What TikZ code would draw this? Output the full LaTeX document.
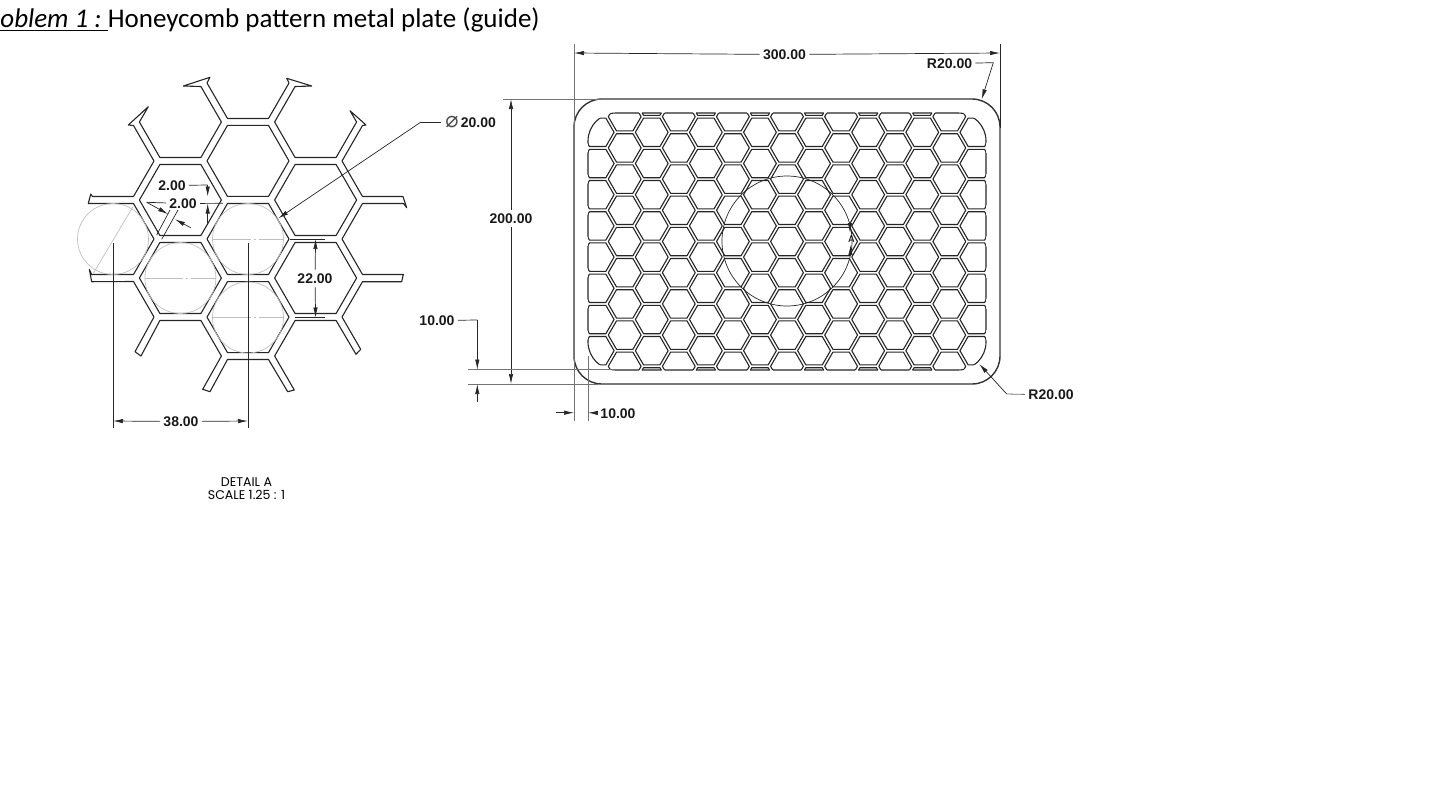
\documentclass[tikz,border=0pt]{standalone}
\usepackage{fontspec}
\setmainfont{Liberation Sans}
\newfontfamily\titlefont{Carlito}
\newfontfamily\notefont{Poppins}
\newfontfamily\symfont{DejaVu Sans}
\usetikzlibrary{arrows.meta}
\tikzset{
  wallline/.style={draw=black!85, line width=0.55pt, line join=round},
  plateline/.style={draw=black!80, line width=0.7pt},
  dimline/.style={draw=black!85, line width=0.35pt},
  extline/.style={draw=black!55, line width=0.4pt},
  faintline/.style={draw=black!25, line width=0.35pt},
  centerline/.style={faintline, dash pattern=on 19pt off 1.5pt on 1pt off 1.5pt},
  dimarrow/.style={dimline, -{Latex[length=5pt,width=2.2pt]}},
  dimlabel/.style={font=\bfseries\fontsize{7}{8}\selectfont, text=black!90, inner sep=1.5pt, yshift=-0.25pt},
  notelabel/.style={font=\notefont\fontsize{6.3}{7}\selectfont, inner sep=0pt},
}
\begin{document}
\begin{tikzpicture}[x=0.5pt, y=-0.5pt]
\useasboundingbox (0,0) rectangle (1440,810);
\node[anchor=base west, inner sep=0pt, font=\titlefont\fontsize{13.5}{15}\selectfont] (title) at (0,27.5) {\underline{\textit{oblem 1 :\ }}Honeycomb pattern metal plate (guide)};

\draw[plateline, rounded corners=14pt] (574,99) rectangle (1000,384);
\foreach \k in {-7,...,7} {
  \foreach \m in {-5,...,4} {
    \pgfmathtruncatemacro\skipcell{(abs(\k)==7)&&((\m==-5)||(\m==4))}
    \ifnum\skipcell=0
    \pgfmathsetmacro\cx{787+27.05*\k}
    \pgfmathsetmacro\cy{241.5+31.2*\m+15.6*mod(abs(\k),2)}
    \begin{scope}
      \clip[rounded corners=14pt] (588,113) rectangle (986,370);
      \draw[wallline] (\cx,\cy) +(-16.4,0) -- +(-8.2,-14.2) -- +(8.2,-14.2) -- +(16.4,0) -- +(8.2,14.2) -- +(-8.2,14.2) -- cycle;
    \end{scope}
    \begin{scope}
      \clip (\cx,\cy) +(-16.4,0) -- +(-8.2,-14.2) -- +(8.2,-14.2) -- +(16.4,0) -- +(8.2,14.2) -- +(-8.2,14.2) -- cycle;
      \draw[wallline, rounded corners=14pt] (588,113) rectangle (986,370);
    \end{scope}
    \fi
  }
}
\draw[dimline] (787,241) circle (65);

\foreach \cx/\cy in {248/239, 248/160.9, 248/317.1, 180.4/200, 180.4/278, 315.6/200, 315.6/278} {
  \draw[wallline] (\cx,\cy) +(-41,0) -- +(-20.5,-35.5) -- +(20.5,-35.5) -- +(41,0) -- +(20.5,35.5) -- +(-20.5,35.5) -- cycle;
}
\draw[wallline] (92.5,196.5) -- (133.5,196.5) -- (154,161) -- (133.5,125.5) -- (128.3,125) -- (148.3,106.7) -- (139.4,122) -- (159.9,157.5) -- (200.9,157.5) -- (221.4,122) -- (200.9,86.5) -- (183.3,86) -- (210,77.3) -- (207,83) -- (227.5,118.5) -- (268.5,118.5) -- (289,83) -- (286.7,78.3) -- (311.7,86) -- (295.1,86.5) -- (274.6,122) -- (295.1,157.5) -- (336.1,157.5) -- (356.6,122) -- (350,110.7) -- (366,125) -- (362.5,125.5) -- (342,161) -- (362.5,196.5) -- (403,196.5) -- (406.7,207.7) -- (403.5,203.5) -- (362.5,203.5) -- (342,239) -- (362.5,274.5) -- (403.3,274.5) -- (401.7,281.7) -- (362.5,281.7) -- (342,317) -- (360.7,349.3) -- (356,354.3) -- (336.1,320.5) -- (295.1,320.5) -- (274.6,356) -- (294.3,390) -- (287.7,391.7) -- (268.5,359.5) -- (227.5,359.5) -- (210,391.7) -- (202.7,389.3) -- (221.4,356) -- (200.9,320.5) -- (159.9,320.5) -- (141,356) -- (135,351.7) -- (154,317) -- (133.5,281.5) -- (91.7,281.7) -- (89.3,269.3) -- (91.7,274.5) -- (133.5,274.5) -- (154,239) -- (133.5,203.5) -- (88.3,203.5) -- (90.7,194) -- cycle;

\foreach \cx/\cy in {113/239, 248/239, 180.4/278, 248/317.5} {
  \draw[faintline] (\cx,\cy) circle (35.5);
}
\foreach \cx/\cy in {248/239, 180.4/278, 248/317.5} {
  \draw[centerline] (\cx-35.5,\cy) -- (\cx+35.5,\cy);
}
\draw[faintline] (133,206.7) -- (93.3,273.3);

\coordinate (e38a) at (113,243);
\coordinate (e38b) at (248,243);
\coordinate (e38c) at (113,428);
\coordinate (e38d) at (248,428);
\coordinate (a38l) at (113,421);
\coordinate (a38r) at (248,421);
\node[dimlabel] (d38) at (181,421) {38.00};
\draw[dimline] (e38a) -- (e38c);
\draw[dimline] (e38b) -- (e38d);
\draw[dimarrow] (d38) -- (a38l);
\draw[dimarrow] (d38) -- (a38r);

\coordinate (e22a) at (290,239);
\coordinate (e22b) at (325,239);
\coordinate (e22c) at (295,317.5);
\coordinate (e22d) at (325,317.5);
\coordinate (a22t) at (315.6,239);
\coordinate (a22b) at (315.6,317.5);
\node[dimlabel] (d22) at (315,278) {22.00};
\draw[dimline] (e22a) -- (e22b);
\draw[dimline] (e22c) -- (e22d);
\draw[dimarrow] (d22) -- (a22t);
\draw[dimarrow] (d22) -- (a22b);

\node[dimlabel] (d2a) at (172,185) {2.00};
\coordinate (k2a) at (207.7,185);
\coordinate (t2a) at (207.7,196.5);
\coordinate (b2a) at (207.7,223.3);
\coordinate (t2b) at (207.7,203.5);
\draw[dimline] (d2a) -- (k2a);
\draw[dimarrow] (k2a) -- (t2a);
\draw[dimarrow] (b2a) -- (t2b);
\node[dimlabel] (d2b) at (183,203) {2.00};
\coordinate (e2a) at (223,203.3);
\coordinate (k2b) at (146.7,202.3);
\coordinate (t2c) at (168,214);
\coordinate (b2c) at (190.7,227.7);
\coordinate (t2d) at (175,219.3);
\coordinate (e2b) at (170,210);
\coordinate (e2c) at (156.7,235);
\coordinate (e2d) at (178,210);
\coordinate (e2e) at (161.7,239.3);
\draw[dimline] (d2b) -- (e2a);
\draw[dimline] (d2b) -- (k2b);
\draw[dimarrow] (k2b) -- (t2c);
\draw[dimarrow] (b2c) -- (t2d);
\draw[dimline] (e2b) -- (e2c);
\draw[dimline] (e2d) -- (e2e);

\node[inner sep=0pt, font=\symfont\fontsize{11}{12}\selectfont, text=black!70] (phi) at (452,122) {⌀};
\node[dimlabel, anchor=west] (d20) at (457.5,122.5) {20.00};
\coordinate (k20a) at (441,122);
\coordinate (k20b) at (421,122);
\coordinate (t20) at (278.3,218.3);
\draw[dimline] (k20a) -- (k20b);
\draw[dimarrow] (k20b) -- (t20);

\node[notelabel] (note1) at (246.5,482.5) {DETAIL A};
\node[notelabel] (note2) at (246.5,494.5) {SCALE 1.25 : 1};

\coordinate (e300a) at (574,128);
\coordinate (e300b) at (574,44);
\coordinate (e300c) at (1000,128);
\coordinate (e300d) at (1000,44);
\coordinate (a300l) at (574,53);
\coordinate (a300r) at (1000,53);
\node[dimlabel] (d300) at (784.5,54) {300.00};
\draw[extline] (e300a) -- (e300b);
\draw[dimline] (e300c) -- (e300d);
\draw[dimarrow] (d300) -- (a300l);
\draw[dimarrow] (d300) -- (a300r);

\node[dimlabel] (dr1) at (949.5,63) {R20.00};
\coordinate (kr1) at (993.3,62.7);
\coordinate (tr1) at (981.7,99.3);
\draw[dimline] (dr1) -- (kr1);
\draw[dimarrow] (kr1) -- (tr1);

\node[dimlabel] (dr2) at (1051,394.5) {R20.00};
\coordinate (kr2) at (1006.7,394);
\coordinate (tr2) at (979.3,364);
\draw[extline] (dr2) -- (kr2);
\draw[dimarrow] (kr2) -- (tr2);

\coordinate (e200a) at (503,99);
\coordinate (e200b) at (603,99);
\coordinate (e200c) at (468,384);
\coordinate (e200d) at (598,384);
\coordinate (a200t) at (511,99);
\coordinate (a200b) at (511,384);
\node[dimlabel] (d200) at (511,218) {200.00};
\draw[extline] (e200a) -- (e200b);
\draw[extline] (e200c) -- (e200d);
\draw[dimarrow] (d200) -- (a200t);
\draw[dimarrow] (d200) -- (a200b);

\node[dimlabel] (d10a) at (437,320) {10.00};
\coordinate (k10) at (477.3,320);
\coordinate (t10a) at (477.3,369.5);
\coordinate (b10) at (477.3,402);
\coordinate (t10b) at (477.3,384);
\coordinate (e10a) at (468,369.5);
\coordinate (e10b) at (613,369.5);
\draw[extline] (e10a) -- (e10b);
\draw[dimline] (d10a) -- (k10);
\draw[dimarrow] (k10) -- (t10a);
\draw[dimarrow] (b10) -- (t10b);

\node[dimlabel] (d10b) at (618,413) {10.00};
\coordinate (e10c) at (574,128);
\coordinate (e10d) at (574,421);
\coordinate (e10e) at (588,356);
\coordinate (e10f) at (588,421);
\coordinate (l10) at (555.7,412.7);
\coordinate (t10c) at (574,412.7);
\coordinate (t10d) at (588,412.7);
\draw[extline] (e10c) -- (e10d);
\draw[extline] (e10e) -- (e10f);
\draw[dimarrow] (l10) -- (t10c);
\draw[dimarrow] (d10b) -- (t10d);

\node[inner sep=0pt, font=\notefont\fontsize{5}{6}\selectfont] (markA) at (851.5,239) {A};
\coordinate (ma1) at (850,223);
\coordinate (ma2) at (850,233);
\coordinate (mb1) at (850.5,256);
\coordinate (mb2) at (850.5,245);
\draw[dimarrow] (ma1) -- (ma2);
\draw[dimarrow] (mb1) -- (mb2);
\end{tikzpicture}
\end{document}
